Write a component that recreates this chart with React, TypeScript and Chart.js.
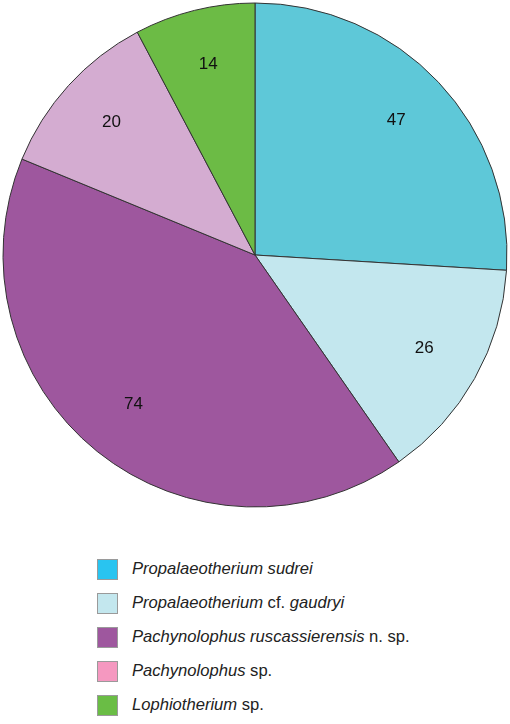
import React, { useEffect, useRef } from "react";
import { Chart, registerables } from "chart.js";

Chart.register(...registerables);

const speciesItalic = [
  "Propalaeotherium sudrei",
  "Propalaeotherium",
  "Pachynolophus ruscassierensis",
  "Pachynolophus",
  "Lophiotherium",
];
const speciesMiddle = ["", " cf. ", " n. sp.", " sp.", " sp."];
const speciesTail = ["", "gaudryi", "", "", ""];
const counts = [47, 26, 74, 20, 14];
const sliceColors = ["#5ec8d8", "#c3e7ee", "#9e579e", "#d4acd1", "#6cbb45"];
const legendColors = ["#29c4f0", "#c3e7ee", "#9e579e", "#f598c0", "#6abd45"];

const FONT = "'Liberation Sans', Arial, Helvetica, sans-serif";

const labelPlugin = {
  id: "sliceLabels",
  afterDatasetsDraw(chart: any) {
    const ctx = chart.ctx;
    const meta = chart.getDatasetMeta(0);
    ctx.save();
    ctx.fillStyle = "#111";
    ctx.font = `17px ${FONT}`;
    ctx.textAlign = "center";
    ctx.textBaseline = "middle";
    meta.data.forEach((arc: any, i: number) => {
      const p = arc.getProps(["x", "y", "startAngle", "endAngle", "outerRadius"], true);
      const mid = (p.startAngle + p.endAngle) / 2;
      const r = p.outerRadius * 0.77;
      ctx.fillText(String(counts[i]), p.x + Math.cos(mid) * r, p.y + Math.sin(mid) * r - 2);
    });
    ctx.restore();
  },
};

export default function App() {
  const ref = useRef<HTMLCanvasElement | null>(null);
  useEffect(() => {
    if (!ref.current) return;
    const chart = new Chart(ref.current, {
      type: "pie",
      data: {
        labels: speciesItalic.map((s, i) => s + speciesMiddle[i] + speciesTail[i]),
        datasets: [
          {
            data: counts,
            backgroundColor: sliceColors,
            borderColor: "#333333",
            borderWidth: 1,
          },
        ],
      },
      options: {
        animation: false,
        responsive: false,
        maintainAspectRatio: false,
        radius: 252,
        layout: { padding: 0 },
        plugins: {
          legend: { display: false },
          tooltip: { enabled: false },
        },
      },
      plugins: [labelPlugin],
    });
    return () => chart.destroy();
  }, []);

  return (
    <div style={{ position: "absolute", left: 0, top: 0, width: 510, height: 724, background: "#fff", fontFamily: FONT }}>
      <canvas ref={ref} width={510} height={510} style={{ position: "absolute", left: 0, top: 0, width: 510, height: 510 }} />
      <div style={{ position: "absolute", left: 97, top: 552 }}>
        {speciesItalic.map((s, i) => (
          <div key={i} style={{ display: "flex", alignItems: "center", height: 34 }}>
            <div
              style={{
                width: 21,
                height: 21,
                background: legendColors[i],
                border: "1px solid #9a9a9a",
                boxSizing: "border-box",
                marginRight: 14,
              }}
            />
            <span style={{ fontSize: 16.6, color: "#222", whiteSpace: "nowrap" }}>
              <i>{s}</i>
              {speciesMiddle[i]}
              <i>{speciesTail[i]}</i>
            </span>
          </div>
        ))}
      </div>
    </div>
  );
}
